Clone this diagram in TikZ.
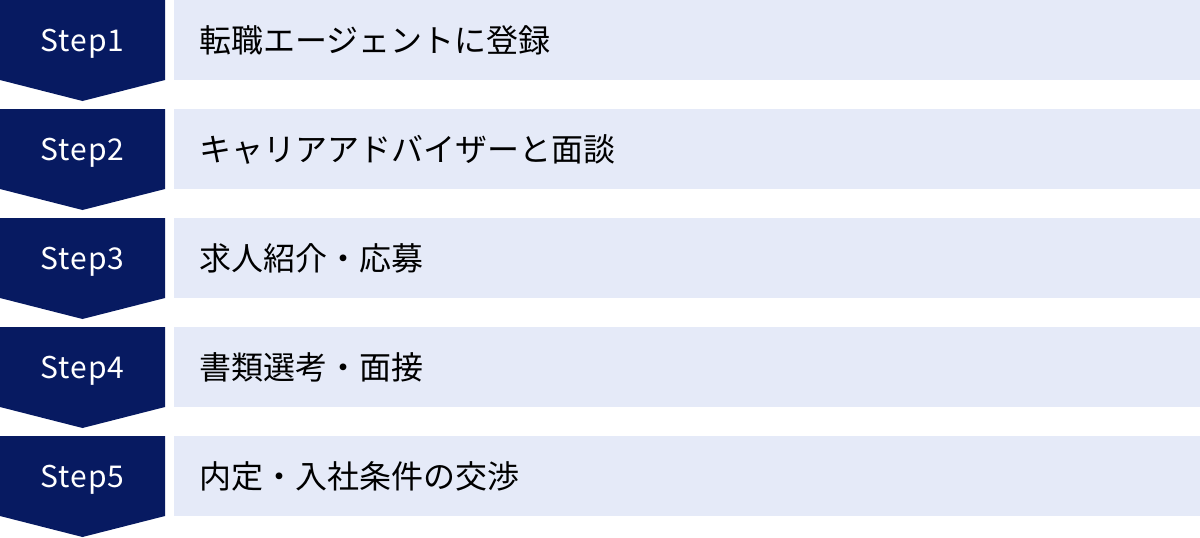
\documentclass[tikz,border=0pt]{standalone}
\usepackage{fontspec}
\setmainfont{Noto Sans CJK JP}
\newfontfamily\jp{Noto Sans CJK JP}
\newfontfamily\steplat[LetterSpace=3]{Noto Sans CJK JP}
\definecolor{navy}{HTML}{071A61}
\definecolor{pale}{HTML}{E5EAF8}
\tikzset{
  stepshape/.style={fill=navy, draw=none},
  steplabel/.style={text=white, font=\steplat\fontsize{30}{36}\selectfont, inner sep=0pt, anchor=base},
  bar/.style={fill=pale, draw=none},
  bartext/.style={text=black, font=\jp\fontsize{32}{36}\selectfont, inner sep=0pt, anchor=west},
}
\begin{document}
\begin{tikzpicture}[x=1pt,y=-1pt]
\useasboundingbox (0,0) rectangle (1200,538);
\foreach \i/\lbl/\txt in {0/1/転職エージェントに登録,1/2/キャリアアドバイザーと面談,2/3/求人紹介・応募,3/4/書類選考・面接,4/5/内定・入社条件の交渉}{
  \pgfmathsetmacro{\y}{\i*109}
  \fill[stepshape] (0,\y) -- (165,\y) -- (165,\y+80) -- (82.5,\y+101) -- (0,\y+80) -- cycle;
  \fill[bar] (174,\y) rectangle (1200,\y+80);
  \node[steplabel] (s\lbl) at (82.5,\y+51.5) {Step\lbl};
  \node[bartext] (t\lbl) at (199,\y+40) {\txt};
}
\end{tikzpicture}
\end{document}
